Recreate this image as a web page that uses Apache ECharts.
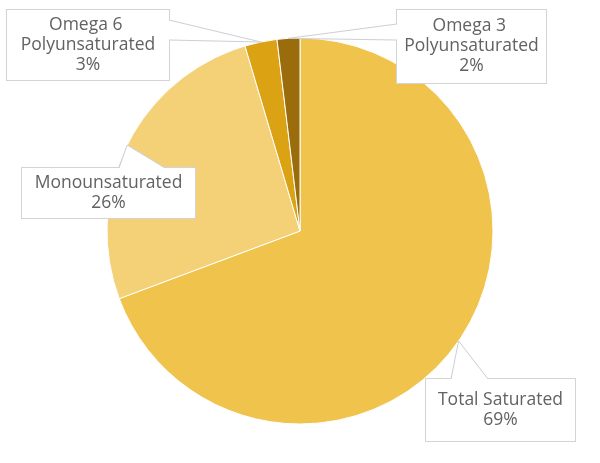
<!DOCTYPE html>
<html>
<head>
<meta charset="utf-8">
<script src="https://cdn.jsdelivr.net/npm/echarts@6/dist/echarts.min.js"></script>
<style>
  html, body { margin: 0; padding: 0; background: #fff; }
  #main { width: 600px; height: 463px; }
</style>
</head>
<body>
<div id="main"></div>
<script>
// categories and values, clockwise from 12 o'clock
const categories = ['Total Saturated', 'Monounsaturated', 'Omega 6 Polyunsaturated', 'Omega 3 Polyunsaturated'];
const values = [69.3, 26.1, 2.7, 1.9];
const colors = ['#F0C34D', '#F4D077', '#DBA314', '#9A6C0C'];

// callout boxes: x, y, w, h, lines, and the two points where the pointer meets the box
const callouts = [
  { x: 426, y: 379, w: 149, h: 62, lines: 2, base: [[451, 379], [488, 379]] },
  { x: 22, y: 168, w: 173, h: 50, lines: 2, base: [[119, 168], [165, 168]] },
  { x: 7, y: 10, w: 162, h: 70, lines: 3, base: [[169, 40], [169, 20]] },
  { x: 397, y: 10, w: 149, h: 73, lines: 3, base: [[397, 24], [397, 40]] }
];

const lineH = 20;

let myChart = echarts.init(document.getElementById('main'));

let data = categories.map((name, i) => {
  let c = callouts[i];
  let pv = (c.h - c.lines * lineH) / 2;
  return {
    name: name,
    value: values[i],
    itemStyle: { color: colors[i] },
    label: {
      width: c.w - 8,
      padding: [pv + 1.5, 4, pv - 1.5, 4]
    }
  };
});

let option = {
  backgroundColor: '#fff',
  series: [{
    type: 'pie',
    center: [300, 231],
    radius: 193,
    startAngle: 90,
    clockwise: true,
    avoidLabelOverlap: false,
    percentPrecision: 0,
    data: data,
    itemStyle: { borderColor: '#fff', borderWidth: 1 },
    label: {
      show: true,
      position: 'outside',
      formatter: '{b}\n{d}%',
      overflow: 'break',
      color: '#626262',
      fontFamily: 'Open Sans',
      fontSize: 17.5,
      lineHeight: lineH,
      align: 'center',
      backgroundColor: '#fff',
      borderColor: '#D4D4D4',
      borderWidth: 1
    },
    labelLine: { show: false },
    labelLayout: function (params) {
      let c = callouts[params.dataIndex];
      return {
        x: c.x + c.w / 2,
        y: c.y + c.h / 2,
        align: 'center',
        verticalAlign: 'middle'
      };
    },
    emphasis: { disabled: true }
  }]
};

myChart.setOption(option);

// callout pointers: tip at the middle of each slice's outer edge, taken from the pie layout
let pieData = myChart.getModel().getSeriesByIndex(0).getData();
let pointers = [];
callouts.forEach((c, i) => {
  let lay = pieData.getItemLayout(i);
  let mid = (lay.startAngle + lay.endAngle) / 2;
  let tip = [lay.cx + lay.r * Math.cos(mid), lay.cy + lay.r * Math.sin(mid)];
  pointers.push({
    type: 'polygon',
    z: 10,
    shape: { points: [c.base[0], tip, c.base[1]] },
    style: { fill: '#fff', stroke: null }
  });
  pointers.push({
    type: 'polyline',
    z: 11,
    shape: { points: [c.base[0], tip, c.base[1]] },
    style: { fill: null, stroke: '#CDCFD6', lineWidth: 1 }
  });
});
myChart.setOption({ graphic: pointers });
</script>
</body>
</html>
